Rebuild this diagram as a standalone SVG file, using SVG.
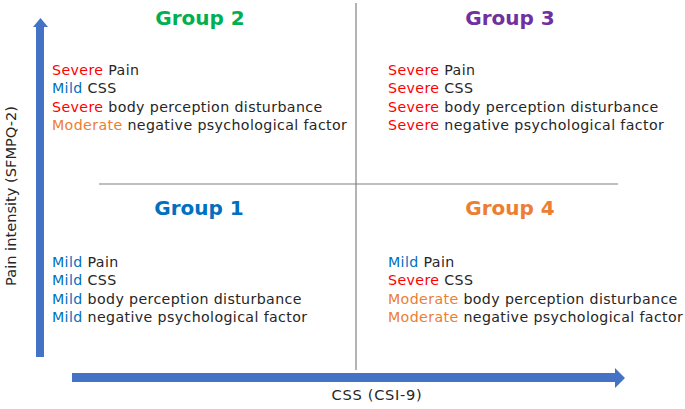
<svg xmlns="http://www.w3.org/2000/svg" width="685" height="409" viewBox="0 0 685 409">
<style>
text{font-family:"DejaVu Sans","Verdana",sans-serif;}
.t{font-size:20px;font-weight:bold;text-anchor:middle;}
.l{font-size:14.2px;letter-spacing:0.38px;fill:#262626;}
.ax{font-size:14.6px;fill:#262626;}
.sv{fill:#FF0000;}
.mi{fill:#0070C0;}
.mo{fill:#ED7D31;}
.div{stroke:#808080;stroke-width:1.2;fill:none;}
</style>
<rect width="685" height="409" fill="#fff"/>
<g id="connectors">
<line class="div" x1="356" y1="3" x2="356" y2="370"/>
<line class="div" x1="99" y1="184" x2="618" y2="184"/>
<path id="y-axis" d="M36 357 V27 H33 L40.5 18 L48 27 H44 V357 Z" fill="#4472C4"/>
<path id="x-axis" d="M72 373 H615 V368 L625 378 L615 388 V382 H72 Z" fill="#4472C4"/>
</g>
<g id="axis-labels">
<text class="ax" x="377" y="400" text-anchor="middle" letter-spacing="0.7">CSS (CSI-9)</text>
<text class="ax" transform="translate(16,196) rotate(-90)" text-anchor="middle">Pain intensity (SFMPQ-2)</text>
</g>
<g id="group2">
<text class="t" x="200" y="25" fill="#00B050">Group 2</text>
<text class="l" x="52" y="75"><tspan class="sv">Severe</tspan> Pain</text>
<text class="l" x="52" y="93.3"><tspan class="mi">Mild</tspan> CSS</text>
<text class="l" x="52" y="111.7"><tspan class="sv">Severe</tspan> body perception disturbance</text>
<text class="l" x="52" y="130"><tspan class="mo">Moderate</tspan> negative psychological factor</text>
</g>
<g id="group3">
<text class="t" x="510" y="25" fill="#7030A0">Group 3</text>
<text class="l" x="388" y="75"><tspan class="sv">Severe</tspan> Pain</text>
<text class="l" x="388" y="93.3"><tspan class="sv">Severe</tspan> CSS</text>
<text class="l" x="388" y="111.7"><tspan class="sv">Severe</tspan> body perception disturbance</text>
<text class="l" x="388" y="130"><tspan class="sv">Severe</tspan> negative psychological factor</text>
</g>
<g id="group1">
<text class="t" x="199" y="215" fill="#0070C0">Group 1</text>
<text class="l" x="52" y="267"><tspan class="mi">Mild</tspan> Pain</text>
<text class="l" x="52" y="285.3"><tspan class="mi">Mild</tspan> CSS</text>
<text class="l" x="52" y="303.7"><tspan class="mi">Mild</tspan> body perception disturbance</text>
<text class="l" x="52" y="322"><tspan class="mi">Mild</tspan> negative psychological factor</text>
</g>
<g id="group4">
<text class="t" x="510" y="215" fill="#ED7D31">Group 4</text>
<text class="l" x="388" y="267"><tspan class="mi">Mild</tspan> Pain</text>
<text class="l" x="388" y="285.3"><tspan class="sv">Severe</tspan> CSS</text>
<text class="l" x="388" y="303.7"><tspan class="mo">Moderate</tspan> body perception disturbance</text>
<text class="l" x="388" y="322"><tspan class="mo">Moderate</tspan> negative psychological factor</text>
</g>
</svg>
